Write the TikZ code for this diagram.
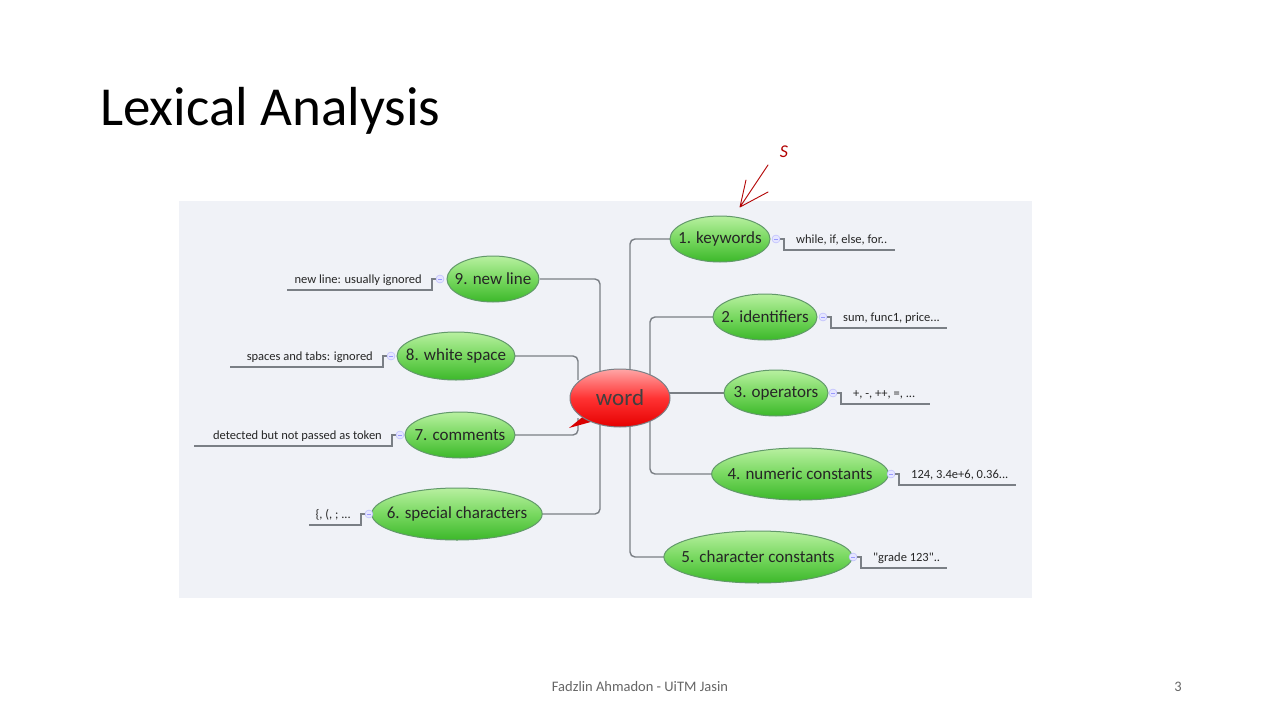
\documentclass[tikz,border=0pt]{standalone}
\usepackage{fontspec}
\setmainfont{Carlito}
\newfontfamily\labfont{Carlito}[Ligatures=NoCommon]
\usetikzlibrary{shapes.geometric}
\definecolor{panel}{HTML}{F0F2F7}
\definecolor{edge}{HTML}{7A7F85}
\definecolor{gtop}{HTML}{B8F0A0}
\definecolor{gmid}{HTML}{78D860}
\definecolor{gbot}{HTML}{3CB82A}
\begin{document}
\begin{tikzpicture}[x=1pt,y=-1pt,
  topic/.style={ellipse,draw=edge!80!green,line width=1pt,top color=gtop,bottom color=gbot,middle color=gmid,inner ysep=0pt,inner xsep=-10pt,font=\fontsize{17}{19}\selectfont,text=black!85},
  lab/.style={font=\labfont\fontsize{12.5}{14}\selectfont,inner sep=0pt,text=black!85},
  conn/.style={draw=edge,line width=1.4pt,rounded corners=5pt},
  ul/.style={draw=edge,line width=1.1pt},
  icon/.style={circle,draw=blue!30,fill=blue!10,minimum size=8pt,inner sep=0pt}]
\useasboundingbox (0,0) rectangle (1280,720);
\fill[white] (0,0) rectangle (1280,720);
\fill[panel] (179,201) rectangle (1032,598);
\node[anchor=base west,font=\fontsize{55}{58}\selectfont,inner sep=0pt] (title) at (100,125) {Lexical Analysis};
\node[font=\fontsize{14.5}{16}\selectfont,text=black!60] (foot) at (640,687) {Fadzlin Ahmadon - UiTM Jasin};
\node[font=\fontsize{14.5}{16}\selectfont,text=black!60] (pg) at (1178,687) {3};
% connectors
\draw[conn] (670,239) -| (630,380);
\draw[conn] (668,557) -| (630,420);
\draw[conn] (713,317) -| (650,378);
\draw[conn] (715,474) -| (650,418);
\draw[conn] (660,393) -- (724,393);
\draw[conn] (540,279) -| (600,385);
\draw[conn] (540,514) -| (600,415);
\draw[conn] (515,356) -| (578,380);
\draw[conn] (515,435) -| (578,418);
% word
\fill[red!85!black] (585,415) -- (569,428) -- (598,420) -- cycle;
\node[ellipse,draw=edge,line width=1pt,top color=red!35!white,bottom color=red!90!black,middle color=red!80!white,minimum width=100pt,minimum height=58pt,font=\fontsize{23}{25}\selectfont,text=black!75] (word) at (620,398) {word};
% topics
\node[topic,minimum width=100pt,minimum height=46pt] (n1) at (720,239) {1. keywords};
\node[topic,minimum width=104pt,minimum height=46pt] (n2) at (765,317) {2. identifiers};
\node[topic,minimum width=104pt,minimum height=46pt] (n3) at (776,393) {3. operators};
\node[topic,minimum width=170pt,minimum height=52pt] (n4) at (800,474) {4. numeric constants};
\node[topic,minimum width=180pt,minimum height=52pt] (n5) at (758,557) {5. character constants};
\node[topic,minimum width=92pt,minimum height=46pt] (n9) at (493,279) {9. new line};
\node[topic,minimum width=118pt,minimum height=48pt] (n8) at (456,356) {8. white space};
\node[topic,minimum width=110pt,minimum height=46pt] (n7) at (460,435) {7. comments};
\node[topic,minimum width=164pt,minimum height=52pt] (n6) at (457,514) {6. special characters};
% right labels
\foreach \n/\x/\y/\e/\t in {1/776/239/895/{while, if, else, for..},2/823/317/947/{sum, func1, price...},3/833/393/930/{+, -, ++, =, ...},4/891/474/1016/{124, 3.4e+6, 0.36...},5/853/557/947/{"grade 123"..}}{
  \draw[ul] (\x+4,\y) -- (\x+8,\y) -- (\x+8,\y+11) -- (\e,\y+11);
  \node[icon] (i\n) at (\x,\y) {};
  \draw[blue!40,line width=0.6pt] (\x-2,\y) -- (\x+2,\y);
  \node[lab,anchor=base west] (l\n) at (\x+20,\y+4) {\t};
}
% left labels
\foreach \n/\x/\y/\s/\t in {9/440/279/287/{new line: usually ignored},8/391/356/230/{spaces and tabs: ignored},7/400/435/194/{detected but not passed as token},6/369/514/309/{\{, (, ; ...}}{
  \draw[ul] (\x-4,\y) -- (\x-8,\y) -- (\x-8,\y+11) -- (\s,\y+11);
  \node[icon] (i\n) at (\x,\y) {};
  \draw[blue!40,line width=0.6pt] (\x-2,\y) -- (\x+2,\y);
  \node[lab,anchor=base east] (l\n) at (\x-18,\y+4) {\t};
}
% red annotation
\draw[red!70!black,line width=0.9pt,line cap=round] (768,165) -- (740,207) (740,207) -- (746,180) (740,207) -- (768,192);
\node[text=red!70!black,font=\fontsize{18}{20}\selectfont\itshape] (s) at (784,152) {S};
\end{tikzpicture}
\end{document}
